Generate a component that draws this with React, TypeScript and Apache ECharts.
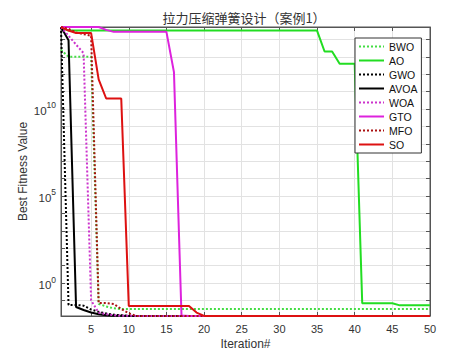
import React, { useEffect, useRef } from "react";
import * as echarts from "echarts";

const iterations = [
  1, 2, 3, 4, 5, 6, 7, 8, 9, 10, 11, 12, 13, 14, 15, 16, 17, 18, 19, 20,
  21, 22, 23, 24, 25, 26, 27, 28, 29, 30, 31, 32, 33, 34, 35, 36, 37, 38, 39, 40,
  41, 42, 43, 44, 45, 46, 47, 48, 49, 50,
];

const xTicks = [5, 10, 15, 20, 25, 30, 35, 40, 45, 50];
const yDecades = [-1, 0, 1, 2, 3, 4, 5, 6, 7, 8, 9, 10, 11, 12, 13, 14];
const yLabelExps = [0, 5, 10];
const yMinValue = 0.0127;
const yMaxValue = 5.13e14;

const BWO = [
  2.5e13, 1e13, 1e13, 1e13, 1e13, 0.063, 0.045, 0.035, 0.032, 0.032,
  0.032, 0.032, 0.032, 0.032, 0.032, 0.032, 0.032, 0.032, 0.032, 0.032,
  0.032, 0.032, 0.032, 0.032, 0.032, 0.032, 0.032, 0.032, 0.032, 0.032,
  0.032, 0.032, 0.032, 0.032, 0.032, 0.032, 0.032, 0.032, 0.032, 0.032,
  0.032, 0.032, 0.032, 0.032, 0.032, 0.032, 0.032, 0.032, 0.032, 0.032,
];
const AO = [
  5.1e14, 3.2e14, 3.2e14, 3.2e14, 3.2e14, 3.2e14, 3.2e14, 3.2e14, 3.2e14, 3.2e14,
  3.2e14, 3.2e14, 3.2e14, 3.2e14, 3.2e14, 3.2e14, 3.2e14, 3.2e14, 3.2e14, 3.2e14,
  3.2e14, 3.2e14, 3.2e14, 3.2e14, 3.2e14, 3.2e14, 3.2e14, 3.2e14, 3.2e14, 3.2e14,
  3.2e14, 3.2e14, 3.2e14, 3.2e14, 3.2e14, 2e13, 2e13, 4e12, 4e12, 4e12,
  0.068, 0.068, 0.068, 0.068, 0.068, 0.052, 0.052, 0.052, 0.052, 0.052,
];
const GWO = [
  5.1e14, 0.055, 0.055, 0.05, 0.03, 0.022, 0.018, 0.015, 0.014, 0.0129,
  0.0129, 0.0129, 0.0129, 0.0129, 0.0129, 0.0129, 0.0129, 0.0129, 0.0129, 0.0129,
  0.0129, 0.0129, 0.0129, 0.0129, 0.0129, 0.0129, 0.0129, 0.0129, 0.0129, 0.0129,
  0.0129, 0.0129, 0.0129, 0.0129, 0.0129, 0.0129, 0.0129, 0.0129, 0.0129, 0.0129,
  0.0129, 0.0129, 0.0129, 0.0129, 0.0129, 0.0129, 0.0129, 0.0129, 0.0129, 0.0129,
];
const AVOA = [
  5.1e14, 9e13, 0.042, 0.028, 0.02, 0.016, 0.014, 0.0131, 0.013, 0.0129,
  0.0128, 0.0128, 0.0128, 0.0128, 0.0128, 0.0128, 0.0128, 0.0128, 0.0128, 0.0128,
  0.0128, 0.0128, 0.0128, 0.0128, 0.0128, 0.0128, 0.0128, 0.0128, 0.0128, 0.0128,
  0.0128, 0.0128, 0.0128, 0.0128, 0.0128, 0.0128, 0.0128, 0.0128, 0.0128, 0.0128,
  0.0128, 0.0128, 0.0128, 0.0128, 0.0128, 0.0128, 0.0128, 0.0128, 0.0128, 0.0128,
];
const WOA = [
  5.1e14, 1.6e14, 5e13, 1.6e13, 0.1, 0.02, 0.016, 0.014, 0.0131, 0.013,
  0.0129, 0.0129, 0.0129, 0.0129, 0.0129, 0.0129, 0.0129, 0.0129, 0.0129, 0.0129,
  0.0129, 0.0129, 0.0129, 0.0129, 0.0129, 0.0129, 0.0129, 0.0129, 0.0129, 0.0129,
  0.0129, 0.0129, 0.0129, 0.0129, 0.0129, 0.0129, 0.0129, 0.0129, 0.0129, 0.0129,
  0.0129, 0.0129, 0.0129, 0.0129, 0.0129, 0.0129, 0.0129, 0.0129, 0.0129, 0.0129,
];
const GTO = [
  5.1e14, 5.1e14, 5.1e14, 5.1e14, 5.1e14, 5.1e14, 3.5e14, 2.7e14, 2.7e14, 2.7e14,
  2.7e14, 2.7e14, 2.7e14, 2.7e14, 2.7e14, 1.3e12, 0.0135, 0.0129, 0.0129, 0.0129,
  0.0128, 0.0128, 0.0128, 0.0128, 0.0128, 0.0128, 0.0128, 0.0128, 0.0128, 0.0128,
  0.0128, 0.0128, 0.0128, 0.0128, 0.0128, 0.0128, 0.0128, 0.0128, 0.0128, 0.0128,
  0.0128, 0.0128, 0.0128, 0.0128, 0.0128, 0.0128, 0.0128, 0.0128, 0.0128, 0.0128,
];
const MFO = [
  5.1e14, 4e14, 2.5e14, 2e14, 1.6e14, 0.07, 0.07, 0.063, 0.032, 0.018,
  0.0129, 0.0129, 0.0129, 0.0129, 0.0129, 0.0129, 0.0129, 0.0129, 0.0129, 0.0129,
  0.0129, 0.0129, 0.0129, 0.0129, 0.0129, 0.0129, 0.0129, 0.0129, 0.0129, 0.0129,
  0.0129, 0.0129, 0.0129, 0.0129, 0.0129, 0.0129, 0.0129, 0.0129, 0.0129, 0.0129,
  0.0129, 0.0129, 0.0129, 0.0129, 0.0129, 0.0129, 0.0129, 0.0129, 0.0129, 0.0129,
];
const SO = [
  5.1e14, 3.2e14, 2.3e14, 2.3e14, 2.3e14, 5e11, 4e10, 4e10, 4e10, 0.048,
  0.048, 0.048, 0.048, 0.048, 0.048, 0.048, 0.048, 0.048, 0.02, 0.0129,
  0.0128, 0.0128, 0.0128, 0.0128, 0.0128, 0.0128, 0.0128, 0.0128, 0.0128, 0.0128,
  0.0128, 0.0128, 0.0128, 0.0128, 0.0128, 0.0128, 0.0128, 0.0128, 0.0128, 0.0128,
  0.0128, 0.0128, 0.0128, 0.0128, 0.0128, 0.0128, 0.0128, 0.0128, 0.0128, 0.0128,
];

const seriesDefs = [
  { name: "BWO", data: BWO, color: "#44dd44", dotted: true },
  { name: "AO", data: AO, color: "#22dd22", dotted: false },
  { name: "GWO", data: GWO, color: "#000000", dotted: true },
  { name: "AVOA", data: AVOA, color: "#000000", dotted: false },
  { name: "WOA", data: WOA, color: "#cc33cc", dotted: true },
  { name: "GTO", data: GTO, color: "#dd22dd", dotted: false },
  { name: "MFO", data: MFO, color: "#aa1111", dotted: true },
  { name: "SO", data: SO, color: "#dd1111", dotted: false },
];

const FONT = "Liberation Sans, Arial, Helvetica, sans-serif";
const AXIS_COLOR = "#555555";
const TEXT_COLOR = "#333333";
const GRID_COLOR = "#e2e2e2";

export default function App() {
  const ref = useRef<HTMLDivElement>(null);

  useEffect(() => {
    if (!ref.current) return;
    const chart = echarts.init(ref.current, null, { renderer: "svg" });
    const yMin = Math.log10(yMinValue);
    const yMax = Math.log10(yMaxValue);

    const option = {
      animation: false,
      backgroundColor: "#ffffff",
      textStyle: { fontFamily: FONT },
      graphic: [
        {
          type: "text",
          x: 244,
          y: 17,
          style: {
            text: "拉力压缩弹簧设计（案例1）",
            textAlign: "center",
            textVerticalAlign: "middle",
            fontSize: 13,
            fontFamily: "Noto Sans CJK SC",
            fill: "#333333",
          },
        },
      ],
      grid: {
        left: 61,
        right: 44,
        top: 27,
        bottom: 39,
        show: true,
        borderColor: AXIS_COLOR,
        borderWidth: 1,
        backgroundColor: "transparent",
      },
      legend: {
        orient: "vertical",
        left: 355,
        top: 38,
        itemWidth: 25,
        itemHeight: 10,
        itemGap: 3,
        padding: [3, 4, 3, 3],
        borderColor: "#333333",
        borderWidth: 1,
        backgroundColor: "#ffffff",
        itemStyle: { opacity: 0 },
        textStyle: { fontSize: 10.5, color: "#111111", fontFamily: FONT },
        data: seriesDefs.map((s) => s.name),
      },
      xAxis: [
        {
          type: "value",
          min: 1,
          max: 50,
          position: "bottom",
          axisLine: { show: true, onZero: false, lineStyle: { color: AXIS_COLOR } },
          axisTick: { show: true, inside: true, length: 4, customValues: xTicks, lineStyle: { color: AXIS_COLOR } },
          axisLabel: { customValues: xTicks, fontSize: 11, color: TEXT_COLOR, margin: 7, fontFamily: FONT },
          splitLine: { show: true, lineStyle: { color: GRID_COLOR } },
          name: "Iteration#",
          nameLocation: "middle",
          nameGap: 22,
          nameMoveOverlap: false,
          nameTextStyle: { fontSize: 12, color: TEXT_COLOR, fontFamily: FONT },
        },
        {
          type: "value",
          min: 1,
          max: 50,
          position: "top",
          axisLine: { show: true, onZero: false, lineStyle: { color: AXIS_COLOR } },
          axisTick: { show: true, inside: true, length: 4, customValues: xTicks, lineStyle: { color: AXIS_COLOR } },
          axisLabel: { show: false },
          splitLine: { show: false },
        },
      ],
      yAxis: [
        {
          type: "value",
          min: yMin,
          max: yMax,
          position: "left",
          axisLine: { show: true, onZero: false, lineStyle: { color: AXIS_COLOR } },
          axisTick: { show: true, inside: true, length: 4, customValues: yDecades, lineStyle: { color: AXIS_COLOR } },
          axisLabel: {
            customValues: yLabelExps,
            margin: 5,
            formatter: (v: number) => `{b|10}{s|${Math.round(v)}}`,
            rich: {
              b: { fontSize: 11.5, lineHeight: 16, verticalAlign: "bottom", color: TEXT_COLOR, fontFamily: FONT },
              s: { fontSize: 8.5, verticalAlign: "top", color: TEXT_COLOR, fontFamily: FONT },
            },
          },
          splitLine: { show: true, lineStyle: { color: GRID_COLOR } },
          name: "Best Fitness Value",
          nameLocation: "middle",
          nameGap: 32,
          nameMoveOverlap: false,
          nameTextStyle: { fontSize: 12, color: TEXT_COLOR, fontFamily: FONT },
        },
        {
          type: "value",
          min: yMin,
          max: yMax,
          position: "right",
          axisLine: { show: true, onZero: false, lineStyle: { color: AXIS_COLOR } },
          axisTick: { show: true, inside: true, length: 4, customValues: yDecades, lineStyle: { color: AXIS_COLOR } },
          axisLabel: { show: false },
          splitLine: { show: false },
        },
      ],
      series: seriesDefs.map((s) => ({
        name: s.name,
        type: "line",
        xAxisIndex: 0,
        yAxisIndex: 0,
        symbol: "none",
        showSymbol: false,
        color: s.color,
        itemStyle: { opacity: 0 },
        lineStyle: {
          width: 2,
          color: s.color,
          type: s.dotted ? [2, 2] : "solid",
          cap: "butt",
        },
        data: s.data.map((v, i) => [iterations[i], Math.log10(v)]),
      })),
    };

    chart.setOption(option as any);
    return () => chart.dispose();
  }, []);

  return (
    <div
      ref={ref}
      style={{ position: "absolute", left: 0, top: 0, width: 474, height: 355, background: "#fff" }}
    />
  );
}
